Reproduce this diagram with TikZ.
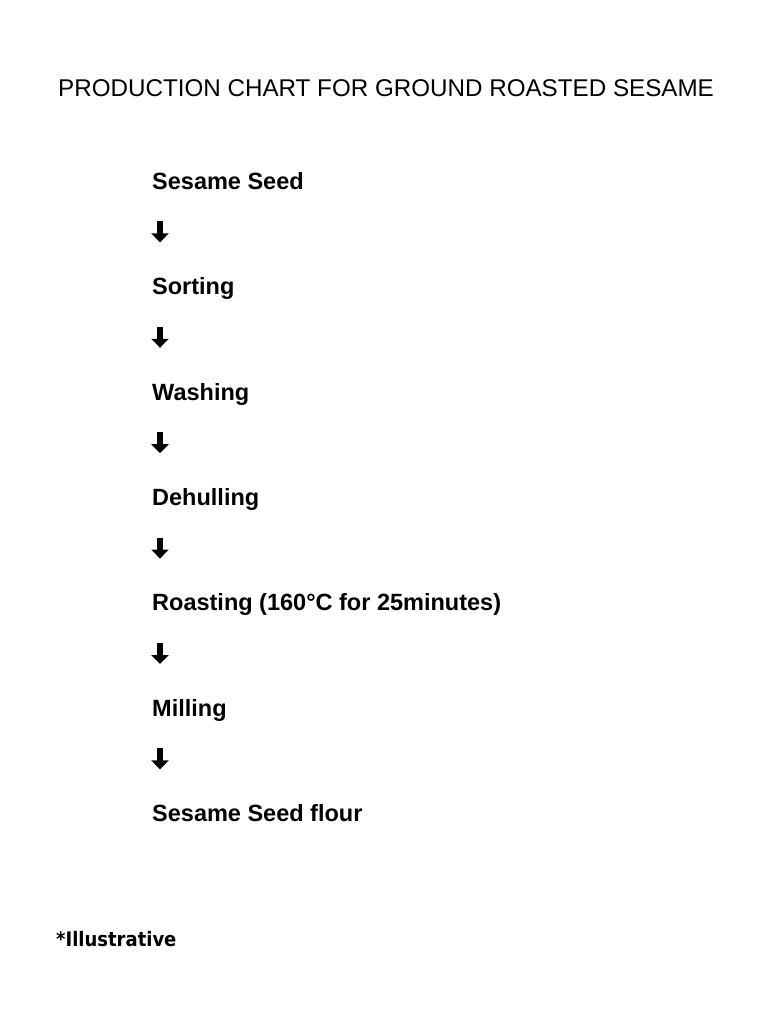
\documentclass[tikz,border=0pt]{standalone}
\usepackage{fontspec}
\setmainfont{Liberation Sans}
\newfontfamily\notefont{DejaVu Sans Condensed}
\usetikzlibrary{positioning,arrows.meta}

\tikzset{
  stepbox/.style={anchor=north west, inner sep=0pt, text height=17pt, text depth=5pt,
    font=\bfseries\fontsize{23.5}{28}\selectfont},
  flowarrow/.style={line width=6pt, -{Triangle[width=17pt,length=9pt]},
    shorten <=27pt, shorten >=35pt},
}

\begin{document}
\begin{tikzpicture}[x=1pt, y=-1pt, node distance=83pt]
		\useasboundingbox[fill=white] (0,0) rectangle (768,1024);

		\node[anchor=base west, inner sep=0pt, font=\fontsize{24.2}{29}\selectfont] (title) at (58,97) {PRODUCTION CHART FOR GROUND ROASTED SESAME};

		\node[stepbox] (seed) at (152,172) {Sesame Seed};
		\node[below=of seed.south west, stepbox] (sorting) {Sorting};
		\node[below=of sorting.south west, stepbox] (washing) {Washing};
		\node[below=of washing.south west, stepbox] (dehulling) {Dehulling};
		\node[below=of dehulling.south west, stepbox] (roasting) {Roasting (160°C for 25minutes)};
		\node[below=of roasting.south west, stepbox] (milling) {Milling};
		\node[below=of milling.south west, stepbox] (flour) {Sesame Seed flour};

		\draw[flowarrow] ([xshift=8pt]seed.south west) -- ([xshift=8pt]sorting.north west);
		\draw[flowarrow] ([xshift=8pt]sorting.south west) -- ([xshift=8pt]washing.north west);
		\draw[flowarrow] ([xshift=8pt]washing.south west) -- ([xshift=8pt]dehulling.north west);
		\draw[flowarrow] ([xshift=8pt]dehulling.south west) -- ([xshift=8pt]roasting.north west);
		\draw[flowarrow] ([xshift=8pt]roasting.south west) -- ([xshift=8pt]milling.north west);
		\draw[flowarrow] ([xshift=8pt]milling.south west) -- ([xshift=8pt]flour.north west);

		\node[anchor=base west, inner sep=0pt, font=\notefont\bfseries\fontsize{20}{24}\selectfont] (note) at (56,946) {*Illustrative};
	\end{tikzpicture}
\end{document}
